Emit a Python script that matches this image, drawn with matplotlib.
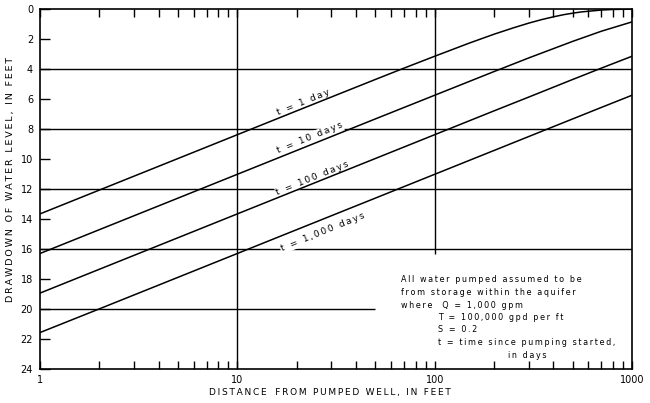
import matplotlib
matplotlib.use("Agg")
import matplotlib.pyplot as plt
import numpy as np

# drawdown (ft) at these distances (ft)
dist_1day = [1, 2, 5, 10, 20, 50, 70, 100, 150, 200, 250, 300, 350, 400, 450,
             500, 550, 600, 700, 800, 1000]
draw_1day = [13.66, 12.07, 9.97, 8.38, 6.79, 4.70, 3.94, 3.15, 2.27, 1.68, 1.26,
             0.94, 0.70, 0.52, 0.38, 0.28, 0.20, 0.15, 0.07, 0.03, 0.01]

dist = [1, 2, 5, 10, 20, 50, 100, 200, 300, 500, 700, 1000]
draw_10days = [16.30, 14.71, 12.61, 11.02, 9.43, 7.33, 5.75, 4.17, 3.26, 2.16, 1.48, 0.86]
draw_100days = [18.94, 17.35, 15.25, 13.66, 12.07, 9.97, 8.38, 6.79, 5.87, 4.70, 3.94, 3.15]
draw_1000days = [21.57, 19.99, 17.89, 16.30, 14.71, 12.61, 11.02, 9.43, 8.50, 7.33, 6.56, 5.75]

curve_labels = ["t = 1 day", "t = 10 days", "t = 100 days", "t = 1,000 days"]
label_x = [21.5, 23.3, 24.1, 27.1]
label_y = [6.2, 8.6, 11.3, 14.9]

note_lines = [
    "All water pumped assumed to be",
    "from storage within the aquifer",
    "where  Q = 1,000 gpm",
    "T = 100,000 gpd per ft",
    "S = 0.2",
    "t = time since pumping started,",
    "in days",
]


def spaced(s, gap="\u2009"):
    return gap.join(s)


fig = plt.figure(figsize=(6.5, 4.03), dpi=100)
ax = fig.add_axes([40 / 650, 34 / 403, 592 / 650, 360 / 403])
ax.set_xscale("log")
ax.set_xlim(1, 1000)
ax.set_ylim(24, 0)

# grid segments as drawn on the original
ax.hlines([4, 8, 12, 16], 1, 1000, color="black", lw=1.0, zorder=1)
ax.hlines(20, 1, 50, color="black", lw=1.0, zorder=1)
ax.vlines(10, 0, 24, color="black", lw=1.0, zorder=1)
ax.vlines(100, 0, 16.3, color="black", lw=1.0, zorder=1)

ax.plot(dist_1day, draw_1day, color="black", lw=1.1, zorder=3)
ax.plot(dist, draw_10days, color="black", lw=1.1, zorder=3)
ax.plot(dist, draw_100days, color="black", lw=1.1, zorder=3)
ax.plot(dist, draw_1000days, color="black", lw=1.1, zorder=3)

for lab, lx, ly in zip(curve_labels, label_x, label_y):
    ax.text(lx, ly, spaced(lab), rotation=22, rotation_mode="anchor",
            ha="center", va="center", fontsize=6.5, zorder=2,
            bbox=dict(facecolor="white", edgecolor="none", pad=0.6))

ax.set_xticks([1, 10, 100, 1000])
ax.set_xticklabels(["1", "10", "100", "1000"])
ax.set_xticks([m * d for d in (1, 10, 100) for m in range(2, 10)], minor=True)
ax.set_yticks(np.arange(0, 25, 2))
ax.tick_params(axis="x", which="both", direction="in", top=True, bottom=True,
               length=6, width=1.0, labelsize=7, pad=4)
ax.tick_params(axis="x", which="minor", labelbottom=False)
ax.tick_params(axis="y", direction="in", left=True, right=False,
               length=7, width=1.0, labelsize=7, pad=5)
for sp in ax.spines.values():
    sp.set_linewidth(1.2)

fig.text(330 / 650, 1 - 392 / 403,
         spaced("DISTANCE") + "   " + spaced("FROM PUMPED WELL, IN FEET"),
         fontsize=6.5, ha="center", va="center")
fig.text(11 / 650, 1 - 179 / 403, spaced("DRAWDOWN OF WATER LEVEL, IN FEET"),
         fontsize=6.8, ha="center", va="center", rotation=90)

note_x = [401, 401, 401, 438, 438, 438, 508]
for i, line in enumerate(note_lines):
    fig.text(note_x[i] / 650, 1 - (280 + 12.5 * i) / 403, spaced(line),
             fontsize=5.8, ha="left", va="center")

fig.savefig("out.png", dpi=100)
